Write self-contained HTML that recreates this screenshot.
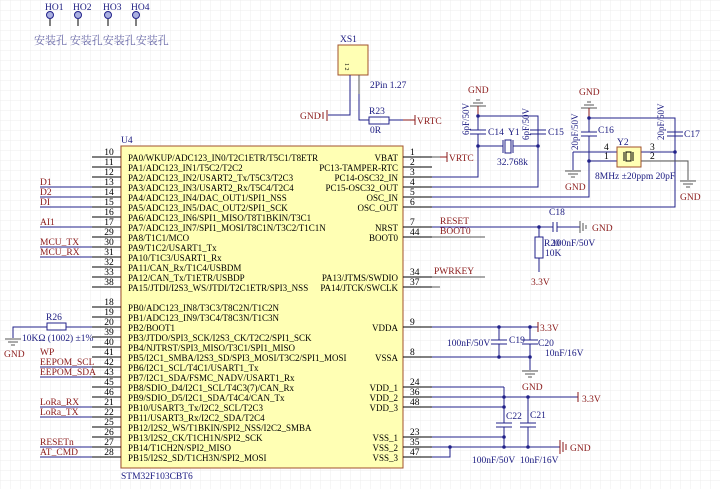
<!DOCTYPE html>
<html><head><meta charset="utf-8"><style>
body{margin:0;background:#fff}
svg{display:block}
text{font-family:"Liberation Serif","Noto Serif CJK SC",serif;font-size:9.5px}
.c text{font-size:9px}
.b{fill:#1a1a80}.r{fill:#8b1a1a}.k{fill:#000}
.w{stroke:#22228a;stroke-width:1;fill:none}
.g{stroke:#555;stroke-width:1;fill:none}
.p{stroke:#000;stroke-width:1;fill:none}
.rd{stroke:#8b1a1a;stroke-width:1;fill:none}
</style></head><body>
<svg width="720" height="489" viewBox="0 0 720 489" xmlns="http://www.w3.org/2000/svg">
<defs>
<pattern id="grid" width="10" height="10" patternUnits="userSpaceOnUse"><path d="M10 0H0V10" fill="none" stroke="#ececec" stroke-width="1"/></pattern>
<g id="gndd"><path d="M-8 0H8M-5 3H5M-2 6H2" stroke="#555" fill="none"/></g>
<g id="gndu"><path d="M-8 0H8M-5 -3H5M-2 -6H2" stroke="#555" fill="none"/></g>
</defs>
<rect width="720" height="489" fill="#fff"/>
<rect width="720" height="489" fill="url(#grid)"/>

<!-- mounting holes -->
<g fill="#aab0e0" stroke="#22228a">
<circle cx="50" cy="15" r="3.5"/><circle cx="78" cy="15" r="3.5"/><circle cx="108" cy="15" r="3.5"/><circle cx="136" cy="15" r="3.5"/></g>
<path d="M50 19V26M78 19V26M108 19V26M136 19V26" stroke="#000"/>
<text x="45" y="10" class="b">HO1</text><text x="73" y="10" class="b">HO2</text><text x="103" y="10" class="b">HO3</text><text x="131" y="10" class="b">HO4</text>
<text x="34" y="44" class="b" style="font-size:11px;fill:#6a6aa8">安装孔 安装孔安装孔安装孔</text>

<!-- chip -->
<rect x="121" y="146" width="282" height="322" fill="#ffffb4" stroke="#a0522d"/>
<text x="121" y="143" class="b">U4</text>
<text x="121" y="479" class="b">STM32F103CBT6</text>

<g class="k c">
<text x="128" y="161">PA0/WKUP/ADC123_IN0/T2C1ETR/T5C1/T8ETR</text>
<text x="128" y="171">PA1/ADC123_IN1/T5C2/T2C2</text>
<text x="128" y="181">PA2/ADC123_IN2/USART2_Tx/T5C3/T2C3</text>
<text x="128" y="191">PA3/ADC123_IN3/USART2_Rx/T5C4/T2C4</text>
<text x="128" y="201">PA4/ADC123_IN4/DAC_OUT1/SPI1_NSS</text>
<text x="128" y="211">PA5/ADC123_IN5/DAC_OUT2/SPI1_SCK</text>
<text x="128" y="221">PA6/ADC123_IN6/SPI1_MISO/T8T1BKIN/T3C1</text>
<text x="128" y="231">PA7/ADC123_IN7/SPI1_MOSI/T8C1N/T3C2/T1C1N</text>
<text x="128" y="241">PA8/T1C1/MCO</text>
<text x="128" y="251">PA9/T1C2/USART1_Tx</text>
<text x="128" y="261">PA10/T1C3/USART1_Rx</text>
<text x="128" y="271">PA11/CAN_Rx/T1C4/USBDM</text>
<text x="128" y="281">PA12/CAN_Tx/T1ETR/USBDP</text>
<text x="128" y="291">PA15/JTDI/I2S3_WS/JTDI/T2C1ETR/SPI3_NSS</text>
<text x="128" y="311">PB0/ADC123_IN8/T3C3/T8C2N/T1C2N</text>
<text x="128" y="321">PB1/ADC123_IN9/T3C4/T8C3N/T1C3N</text>
<text x="128" y="331">PB2/BOOT1</text>
<text x="128" y="341">PB3/JTDO/SPI3_SCK/I2S3_CK/T2C2/SPI1_SCK</text>
<text x="128" y="351">PB4/NJTRST/SPI3_MISO/T3C1/SPI1_MISO</text>
<text x="128" y="361">PB5/I2C1_SMBA/I2S3_SD/SPI3_MOSI/T3C2/SPI1_MOSI</text>
<text x="128" y="371">PB6/I2C1_SCL/T4C1/USART1_Tx</text>
<text x="128" y="381">PB7/I2C1_SDA/FSMC_NADV/USART1_Rx</text>
<text x="128" y="391">PB8/SDIO_D4/I2C1_SCL/T4C3(7)/CAN_Rx</text>
<text x="128" y="401">PB9/SDIO_D5/I2C1_SDA/T4C4/CAN_Tx</text>
<text x="128" y="411">PB10/USART3_Tx/I2C2_SCL/T2C3</text>
<text x="128" y="421">PB11/USART3_Rx/I2C2_SDA/T2C4</text>
<text x="128" y="431">PB12/I2S2_WS/T1BKIN/SPI2_NSS/I2C2_SMBA</text>
<text x="128" y="441">PB13/I2S2_CK/T1CH1N/SPI2_SCK</text>
<text x="128" y="451">PB14/T1CH2N/SPI2_MISO</text>
<text x="128" y="461">PB15/I2S2_SD/T1CH3N/SPI2_MOSI</text>
</g>
<g class="k c" text-anchor="end">
<text x="398" y="161">VBAT</text>
<text x="398" y="171">PC13-TAMPER-RTC</text>
<text x="398" y="181">PC14-OSC32_IN</text>
<text x="398" y="191">PC15-OSC32_OUT</text>
<text x="398" y="201">OSC_IN</text>
<text x="398" y="211">OSC_OUT</text>
<text x="398" y="231">NRST</text>
<text x="398" y="241">BOOT0</text>
<text x="398" y="281">PA13/JTMS/SWDIO</text>
<text x="398" y="291">PA14/JTCK/SWCLK</text>
<text x="398" y="331">VDDA</text>
<text x="398" y="361">VSSA</text>
<text x="398" y="391">VDD_1</text>
<text x="398" y="401">VDD_2</text>
<text x="398" y="411">VDD_3</text>
<text x="398" y="441">VSS_1</text>
<text x="398" y="451">VSS_2</text>
<text x="398" y="461">VSS_3</text>
</g>

<!-- left pins -->
<path class="p" d="M92 157H121M92 167H121M92 177H121M92 187H121M92 197H121M92 207H121M92 217H121M92 227H121M92 237H121M92 247H121M92 257H121M92 267H121M92 277H121M92 287H121M92 307H121M92 317H121M92 327H121M92 337H121M92 347H121M92 357H121M92 367H121M92 377H121M92 387H121M92 397H121M92 407H121M92 417H121M92 427H121M92 437H121M92 447H121M92 457H121"/>
<g class="k" text-anchor="middle">
<text x="109" y="155">10</text><text x="109" y="165">11</text><text x="109" y="175">12</text><text x="109" y="185">13</text><text x="109" y="195">14</text><text x="109" y="205">15</text><text x="109" y="215">16</text><text x="109" y="225">17</text><text x="109" y="235">29</text><text x="109" y="245">30</text><text x="109" y="255">31</text><text x="109" y="265">32</text><text x="109" y="275">33</text><text x="109" y="285">38</text>
<text x="109" y="305">18</text><text x="109" y="315">19</text><text x="109" y="325">20</text><text x="109" y="335">39</text><text x="109" y="345">40</text><text x="109" y="355">41</text><text x="109" y="365">42</text><text x="109" y="375">43</text><text x="109" y="385">45</text><text x="109" y="395">46</text><text x="109" y="405">21</text><text x="109" y="415">22</text><text x="109" y="425">25</text><text x="109" y="435">26</text><text x="109" y="445">27</text><text x="109" y="455">28</text>
</g>
<path class="w" d="M40 187H92M40 197H92M40 207H92M40 227H92M40 247H92M40 257H92M40 367H92M40 377H92M40 407H92M40 417H92M40 447H92M40 457H92"/>
<g class="r">
<text x="40" y="185">D1</text><text x="40" y="195">D2</text><text x="40" y="205">DI</text><text x="40" y="225">AI1</text><text x="40" y="245">MCU_TX</text><text x="40" y="255">MCU_RX</text>
<text x="40" y="355">WP</text><text x="40" y="365">EEPOM_SCL</text><text x="40" y="375">EEPOM_SDA</text><text x="40" y="405">LoRa_RX</text><text x="40" y="415">LoRa_TX</text><text x="40" y="445">RESETn</text><text x="40" y="455">AT_CMD</text>
</g>
<!-- R26 -->
<rect x="47" y="323" width="19" height="7" fill="none" stroke="#22228a"/>
<path class="w" d="M66 327H92M47 327H13V338"/>
<use href="#gndd" x="13" y="339"/>
<text x="46" y="320" class="b">R26</text>
<text x="22" y="341" class="b">10KΩ (1002) ±1%</text>
<text x="4" y="357" class="r">GND</text>

<!-- right pins -->
<path class="p" d="M403 157H432M403 167H432M403 177H432M403 187H432M403 197H432M403 207H432M403 227H432M403 237H432M403 277H432M403 287H432M403 327H432M403 357H432M403 387H432M403 397H432M403 407H432M403 437H432M403 447H432M403 457H432"/>
<g class="k">
<text x="410" y="155">1</text><text x="410" y="165">2</text><text x="410" y="175">3</text><text x="410" y="185">4</text><text x="410" y="195">5</text><text x="410" y="205">6</text><text x="410" y="225">7</text><text x="410" y="235">44</text><text x="410" y="275">34</text><text x="410" y="285">37</text><text x="410" y="325">9</text><text x="410" y="355">8</text><text x="410" y="385">24</text><text x="410" y="395">36</text><text x="410" y="405">48</text><text x="410" y="435">23</text><text x="410" y="445">35</text><text x="410" y="455">47</text>
</g>

<!-- XS1 -->
<rect x="338" y="45" width="30" height="30" fill="#ffffb4" stroke="#a0522d"/>
<text x="340" y="42" class="b">XS1</text>
<text x="346" y="68" class="k" style="font-size:6px" transform="rotate(90 348 65)">1 2</text>
<text x="370" y="88" class="b">2Pin 1.27</text>
<path class="w" d="M350 75V115H328"/>
<path class="g" d="M359 75V94"/>
<path class="w" d="M359 94V120H369"/>
<path class="rd" d="M327 110V121M323 112V119M320 114V117"/>
<text x="300" y="119" class="r">GND</text>
<rect x="369" y="117" width="20" height="7" fill="none" stroke="#22228a"/>
<text x="369" y="114" class="b">R23</text><text x="370" y="133" class="b">0R</text>
<path class="w" d="M389 120H411"/><path class="rd" d="M403 120H415M415 115V125"/>
<text x="417" y="124" class="r">VRTC</text>
<path class="g" d="M432 157H447"/><path class="rd" d="M440 157H447M447 152V162"/>
<text x="449" y="161" class="r">VRTC</text>

<!-- C14/C15/Y1 -->
<use href="#gndu" x="478" y="106"/>
<path class="rd" d="M478 106V116"/>
<text x="468" y="93" class="r">GND</text>
<path class="w" d="M478 116H538V187H432M478 116V130M478 134V177H432M478 146H503M513 146H538M538 116V130M538 134V146"/>
<path d="M470 130H486M470 134H486M530 130H546M530 134H546" stroke="#22228a" fill="none"/>
<rect x="505" y="140" width="6" height="13" fill="none" stroke="#22228a"/>
<path d="M503 140V153M513 140V153" stroke="#22228a"/>
<circle cx="478" cy="116" r="1.8" fill="#22228a"/><circle cx="478" cy="146" r="1.8" fill="#22228a"/><circle cx="538" cy="146" r="1.8" fill="#22228a"/>
<text x="488" y="135" class="b">C14</text><text x="508" y="135" class="b">Y1</text><text x="548" y="135" class="b">C15</text>
<text x="497" y="165" class="b">32.768k</text>
<text class="b" style="font-size:9px" transform="translate(469 135) rotate(-90)">6pF/50V</text>
<text class="b" style="font-size:9px" transform="translate(529 140) rotate(-90)">6pF/50V</text>

<!-- C16/C17/Y2 -->
<use href="#gndu" x="589" y="108"/>
<path class="rd" d="M589 108V118"/>
<text x="579" y="95" class="r">GND</text>
<path class="w" d="M589 118H675V207H432M589 118V132M589 136V197H432M589 161H617M641 152H675M675 118V132M675 136"/>
<path class="w" d="M573 152H617M573 152V170"/>
<path class="g" d="M641 161H688V180"/>
<path d="M581 132H597M581 136H597M667 132H683M667 136H683" stroke="#22228a" fill="none"/>
<use href="#gndd" x="573" y="171"/><use href="#gndd" x="688" y="181"/>
<text x="565" y="190" class="r">GND</text><text x="680" y="200" class="r">GND</text>
<rect x="617" y="147" width="24" height="20" fill="#ffffb4" stroke="#a0522d"/>
<rect x="626" y="152" width="5" height="9" fill="none" stroke="#000"/>
<path d="M624 152V161M633 152V161" stroke="#000"/>
<circle cx="589" cy="118" r="1.8" fill="#22228a"/><circle cx="589" cy="161" r="1.8" fill="#22228a"/><circle cx="675" cy="152" r="1.8" fill="#22228a"/>
<text x="604" y="150" class="k">4</text><text x="604" y="159" class="k">1</text><text x="650" y="150" class="k">3</text><text x="650" y="159" class="k">2</text>
<text x="617" y="145" class="b">Y2</text>
<text x="598" y="133" class="b">C16</text><text x="684" y="137" class="b">C17</text>
<text x="595" y="179" class="b">8MHz ±20ppm 20pF</text>
<text class="b" style="font-size:9px" transform="translate(578 150) rotate(-90)">20pF/50V</text>
<text class="b" style="font-size:9px" transform="translate(664 140) rotate(-90)">20pF/50V</text>

<!-- NRST/BOOT0 -->
<path class="w" d="M432 227H553M539 227V237M539 258V272"/>
<path class="g" d="M432 237H485M432 277H485M432 287H440"/>
<path d="M553 222V232M557 222V232" stroke="#22228a"/>
<path class="w" d="M557 227H580"/>
<path class="g" d="M580 221V233M583 223V231M586 225V229"/>
<circle cx="539" cy="227" r="1.8" fill="#22228a"/>
<rect x="535" y="237" width="8" height="21" fill="none" stroke="#22228a"/>
<text x="592" y="231" class="r">GND</text>
<text x="549" y="215" class="b">C18</text>
<text x="544" y="246" class="b">R20</text><text x="552" y="246" class="b">100nF/50V</text>
<text x="545" y="256" class="b">10K</text>
<text x="531" y="285" class="r">3.3V</text>
<text x="440" y="224" class="r">RESET</text><text x="440" y="234" class="r">BOOT0</text><text x="434" y="274" class="r">PWRKEY</text>

<!-- VDDA/VSSA -->
<path class="w" d="M432 327H538M432 357H530M499 327V340M499 344V357M530 327V340M530 344V370"/>
<path d="M491 340H507M491 344H507M522 340H538M522 344H538" stroke="#22228a"/>
<path class="rd" d="M538 322V332"/>
<text x="540" y="331" class="r">3.3V</text>
<use href="#gndd" x="530" y="371"/>
<text x="522" y="390" class="r">GND</text>
<g fill="#22228a"><circle cx="499" cy="327" r="1.8"/><circle cx="530" cy="327" r="1.8"/><circle cx="499" cy="357" r="1.8"/><circle cx="530" cy="357" r="1.8"/></g>
<text x="447" y="346" class="b">100nF/50V</text><text x="509" y="343" class="b">C19</text><text x="538" y="346" class="b">C20</text><text x="545" y="356" class="b">10nF/16V</text>

<!-- VDD/VSS -->
<path class="w" d="M432 387H504M432 397H578M432 407H504M504 387V423M504 427V447M528 397V423M528 427V447M432 437H504M432 447H560M432 457H450V447"/>
<path d="M496 423H512M496 427H512M520 423H536M520 427H536" stroke="#22228a"/>
<path class="rd" d="M578 392V402"/>
<text x="582" y="402" class="r">3.3V</text>
<path class="rd" d="M560 440V454M563 442V452M566 444V450"/>
<text x="570" y="451" class="r">GND</text>
<g fill="#22228a"><circle cx="504" cy="397" r="1.8"/><circle cx="504" cy="407" r="1.8"/><circle cx="528" cy="397" r="1.8"/><circle cx="504" cy="437" r="1.8"/><circle cx="504" cy="447" r="1.8"/><circle cx="528" cy="447" r="1.8"/><circle cx="450" cy="447" r="1.8"/></g>
<text x="506" y="419" class="b">C22</text><text x="530" y="418" class="b">C21</text>
<text x="472" y="463" class="b">100nF/50V</text><text x="520" y="463" class="b">10nF/16V</text>
</svg>
</body></html>
